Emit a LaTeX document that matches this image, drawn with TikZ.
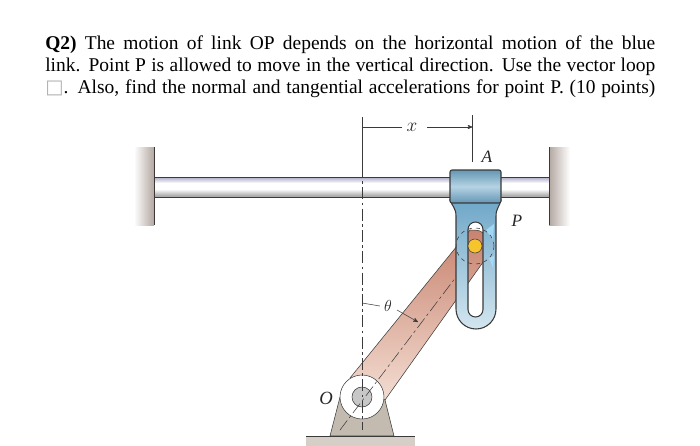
\documentclass[tikz,border=0pt]{standalone}
\usepackage{fontspec}
\setmainfont{Liberation Serif}
\newfontfamily\boxfont{DejaVu Sans}
\usetikzlibrary{arrows,shapes}
\definecolor{wallgray}{HTML}{B3A7A1}
\definecolor{basegray}{HTML}{C3BBB0}
\definecolor{linkdark}{HTML}{C8836F}
\definecolor{linklight}{HTML}{F3DDD2}
\definecolor{blueDark}{HTML}{6FA7C8}
\definecolor{blueLight}{HTML}{D3E6F0}
\definecolor{pinyellow}{HTML}{F6C52E}
\definecolor{inkline}{HTML}{3A3A3A}
\pgfdeclareverticalshading{rodshade}{100bp}{
  color(0bp)=(gray!75!black); color(30bp)=(gray!60); color(45bp)=(white);
  color(60bp)=(white); color(72bp)=(blue!20!gray!45); color(100bp)=(gray)}
\newcommand{\fitline}[1]{\makebox[457.5pt][s]{#1}}
\tikzstyle{edge} = [draw=inkline,thin]
\tikzstyle{axis} = [draw=inkline,thin,dash pattern=on 9pt off 2.5pt on 2pt off 2.5pt]
\begin{document}
\begin{tikzpicture}[x=0.75pt,y=-0.75pt,>=stealth',
  label node/.style={font=\itshape\fontsize{12}{12}\selectfont,inner sep=0pt,text=black!85},
  wall node/.style={draw=none,left color=white,right color=wallgray}]

  \useasboundingbox (0,0) rectangle (700,446);

  \node[anchor=north west,inner sep=0pt,align=left,
    font=\fontsize{14.6}{16.5}\selectfont] (question) at (45,36)
    {\fitline{\textbf{Q2)} The motion of link OP depends on the horizontal motion of the blue}\\
     \fitline{link. Point P is allowed to move in the vertical direction. Use the vector loop}\\
     \fitline{{\boxfont\color{black!30}\symbol{"25A1}}. Also, find the normal and tangential accelerations for point P. (10 points)}};

  % walls and rod
  \shade[wall node] (134,147) rectangle (154,225);
  \shade[draw=none,left color=wallgray,right color=white] (549,147) rectangle (570,225);
  \shade[shading=rodshade] (154,177) rectangle (549,197);
  \draw[edge,semithick] (154,177) -- (549,177) (154,197) -- (549,197);
  \draw[edge,semithick] (154,147) -- (154,225) (549,147) -- (549,225);

  % support
  \fill[basegray!70!white] (306,436) rectangle (415,446);
  \draw[edge,fill=basegray] (340,397) -- (330,436) -- (394,436) -- (385,400);
  \draw[edge] (306,436) -- (415,436);

  % link
  \shade[draw=inkline,top color=linkdark,bottom color=linklight,shading angle=0]
    (350,378) -- (470,230) to[out=0,in=90] (484,236) -- (486,258) -- (385,400) -- cycle;
  \coordinate (O) at (362,397);
  \coordinate (pin) at (475,246);

  % pivot
  \node[circle,draw=inkline,fill=white,inner sep=0pt,minimum size=33pt] (hub) at (O) {};
  \node[circle,draw=inkline,fill=black!22,inner sep=0pt,minimum size=15pt] (shaft) at (O) {};
  \coordinate (linktail) at (340,430);
  \draw[axis] (linktail) -- (456,277);

  % clevis
  \shade[draw=inkline,thick,even odd rule,top color=blueDark,bottom color=blueLight]
    (450,200) .. controls (452,206) and (456,208) .. (456,216) -- (456,309)
    arc[start angle=180,end angle=0,radius=20] -- (496,216)
    .. controls (496,208) and (500,206) .. (501,200) -- cycle
    (468,229.5) arc[start angle=180,end angle=360,radius=7.5] -- (483,309.5)
    arc[start angle=0,end angle=180,radius=7.5] -- cycle;
  \shade[draw=inkline,thick,rounded corners=1.5pt,top color=blueDark!90!black,bottom color=blueDark!90!black,middle color=blueLight!70!blueDark]
    (450,170) rectangle (501,203);

  % pin and hidden circle
  \fill[blue!35!cyan!35,opacity=.8] (486,230) -- (494,224) -- (493,240) -- cycle
    (489,258) -- (494,256) -- (493,268) -- cycle;
  \draw[edge,dashed] (pin) ellipse (19 and 18);
  \node[circle,draw=inkline,fill=pinyellow,inner sep=0pt,minimum size=10.5pt] (pinhead) at (pin) {};

  % vertical axis and dimensions
  \coordinate (xtop) at (362,117);
  \coordinate (xmid) at (362,166);
  \coordinate (xend) at (362,430);
  \coordinate (atop) at (472.5,115);
  \coordinate (abot) at (472.5,162);
  \draw[edge] (xtop) -- (xmid);
  \draw[axis] (xmid) -- (xend);
  \draw[edge] (atop) -- (abot);
  \node[label node,font=\fontsize{14}{14}\selectfont] (xlabel) at (412,127) {$x$};
  \coordinate (xstart) at (362,127);
  \coordinate (xstop) at (472.5,127);
  \draw[edge] (xstart) -- ([xshift=-3pt]xlabel.west);
  \draw[edge,->] ([xshift=7pt]xlabel.east) -- (xstop);

  \node[label node,font=\fontsize{13}{13}\selectfont] (thetalabel) at (388,306) {$\theta$};
  \coordinate (thetastart) at (362,303);
  \coordinate (thetatip) at (418,322);
  \draw[edge] (thetastart) -- ([xshift=-3pt]thetalabel.west);
  \draw[edge,->] (397,310) -- (thetatip);

  \node[label node,font=\itshape\fontsize{13}{13}\selectfont] (Alabel) at (487,157) {A};
  \node[label node,font=\itshape\fontsize{13}{13}\selectfont] (Plabel) at (517,221) {P};
  \node[label node,font=\itshape\fontsize{14}{14}\selectfont] (Olabel) at (326,398) {O};

\end{tikzpicture}
\end{document}
